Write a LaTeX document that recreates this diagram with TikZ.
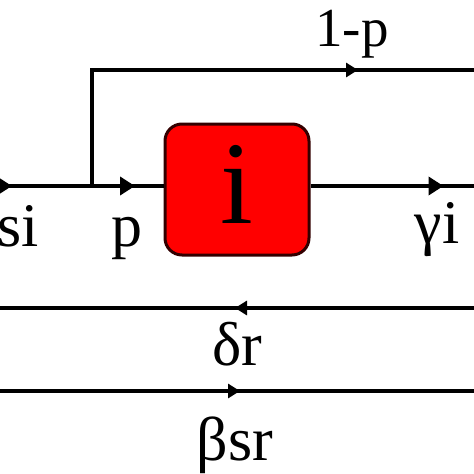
\documentclass[tikz,border=0pt]{standalone}
\usepackage{fontspec}
\setmainfont{Liberation Serif}
\usetikzlibrary{arrows.meta,decorations.markings}
\tikzset{
  flow/.style={line width=4pt},
  thin flow/.style={line width=3.2pt},
  tipat/.style={postaction={decorate},decoration={markings,
     mark=at position #1 with {\arrow{Triangle[length=15pt,width=18pt]}}}},
  smalltipat/.style={postaction={decorate},decoration={markings,
     mark=at position #1 with {\arrow{Triangle[length=12pt,width=14pt]}}}},
  lbl/.style={anchor=base,inner sep=0pt,font=\fontsize{62}{68}\selectfont},
  state/.style={draw=black!80!red,line width=3pt,fill=red,rounded corners=17pt,
     minimum width=144pt,minimum height=131pt,inner sep=0pt},
}
\begin{document}
\begin{tikzpicture}[x=1pt,y=-1pt]
\useasboundingbox (0,0) rectangle (474,474);
\node[state] (box) at (237,189.5) {};
\node[anchor=base,inner sep=0pt,font=\fontsize{118}{124}\selectfont] (ilbl) at (237,223) {i};
\coordinate (L) at (-2,186);
\coordinate (B) at (92,186);
\coordinate (R) at (476,186);
\coordinate (TR) at (476,70);
\coordinate (DL) at (-2,308);
\coordinate (DR) at (476,308);
\coordinate (BL) at (-2,391);
\coordinate (BR) at (476,391);
\draw[flow,tipat=14pt] (L) -- (B);
\draw[flow,tipat=43pt] (B) -- (B -| box.west);
\draw[flow,tipat=133pt] (R -| box.east) -- (R);
\draw[flow,smalltipat=382pt] (B) |- (TR);
\draw[thin flow,smalltipat=241pt] (DR) -- (DL);
\draw[thin flow,smalltipat=242pt] (BL) -- (BR);
\node[lbl] (si) at (18,246) {si};
\node[lbl] (p) at (127,246) {p};
\node[lbl] (gi) at (437,243) {γi};
\node[lbl,font=\fontsize{55}{60}\selectfont] (omp) at (352,46) {1-p};
\node[lbl] (dr) at (237,365) {δr};
\node[lbl] (bsr) at (235,460) {βsr};
\end{tikzpicture}
\end{document}
